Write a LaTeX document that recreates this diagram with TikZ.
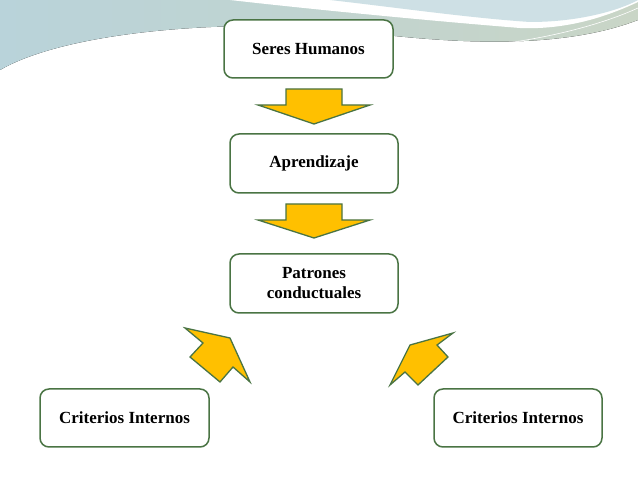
\documentclass[tikz,border=0pt]{standalone}
\usepackage{fontspec}
\setmainfont{Liberation Serif}
\definecolor{boxgreen}{HTML}{4A7444}
\definecolor{arrowyellow}{HTML}{FFC000}
\definecolor{bgblue}{HTML}{B9D3DA}
\definecolor{bggreen}{HTML}{C9D5C6}
\begin{document}
\begin{tikzpicture}[x=1pt,y=-1pt,
  box/.style={draw=boxgreen,line width=1.5pt,rounded corners=9pt,fill=white,align=center,font=\fontsize{17}{20}\selectfont\bfseries},
  arr/.style={draw=boxgreen,line width=1.3pt,fill=arrowyellow,line join=miter}]
\useasboundingbox (0,0) rectangle (638,478);
% background swoosh
\fill[left color=bgblue,right color=bggreen] (0,0) -- (638,0) -- (638,20) .. controls (560,50) and (450,45) .. (330,28) .. controls (200,20) and (60,35) .. (0,70) -- cycle;
\fill[white] (230,0) .. controls (300,8) and (420,20) .. (520,28) .. controls (570,30) and (610,15) .. (638,2) -- (638,0) -- cycle;
\fill[bgblue!70] (330,0) .. controls (400,8) and (470,18) .. (530,22) .. controls (580,22) and (620,10) .. (638,0) -- cycle;
\draw[white,line width=0.6pt] (0,72) .. controls (80,45) and (200,35) .. (330,38);
\draw[white,line width=0.6pt] (390,50) .. controls (500,52) and (590,30) .. (638,8);
\node[box,minimum width=169pt,minimum height=58pt] (sh) at (308.5,49) {Seres Humanos};
\node[box,minimum width=168pt,minimum height=59pt] (ap) at (314,163.5) {Aprendizaje};
\node[box,minimum width=168pt,minimum height=59pt] (pc) at (314,283.5) {Patrones\\conductuales};
\node[box,minimum width=169pt,minimum height=58pt] (ci1) at (124.5,418) {Criterios Internos};
\node[box,minimum width=168pt,minimum height=58pt] (ci2) at (518,418) {Criterios Internos};
% down arrows
\draw[arr] (286,89) -- (342,89) -- (342,105) -- (370,105) -- (314,124) -- (258,105) -- (286,105) -- cycle;
\draw[arr] (286,204) -- (342,204) -- (342,220) -- (370,220) -- (314,238) -- (258,220) -- (286,220) -- cycle;
% diagonal arrows
\draw[arr] (185,328) -- (230,338) -- (250,382) -- (233,367) -- (220,382) -- (190,357) -- (203,343) -- cycle;
\draw[arr] (453,333) -- (410,345) -- (390,385) -- (405,372) -- (418,385) -- (448,357) -- (437,345) -- cycle;
\end{tikzpicture}
\end{document}
